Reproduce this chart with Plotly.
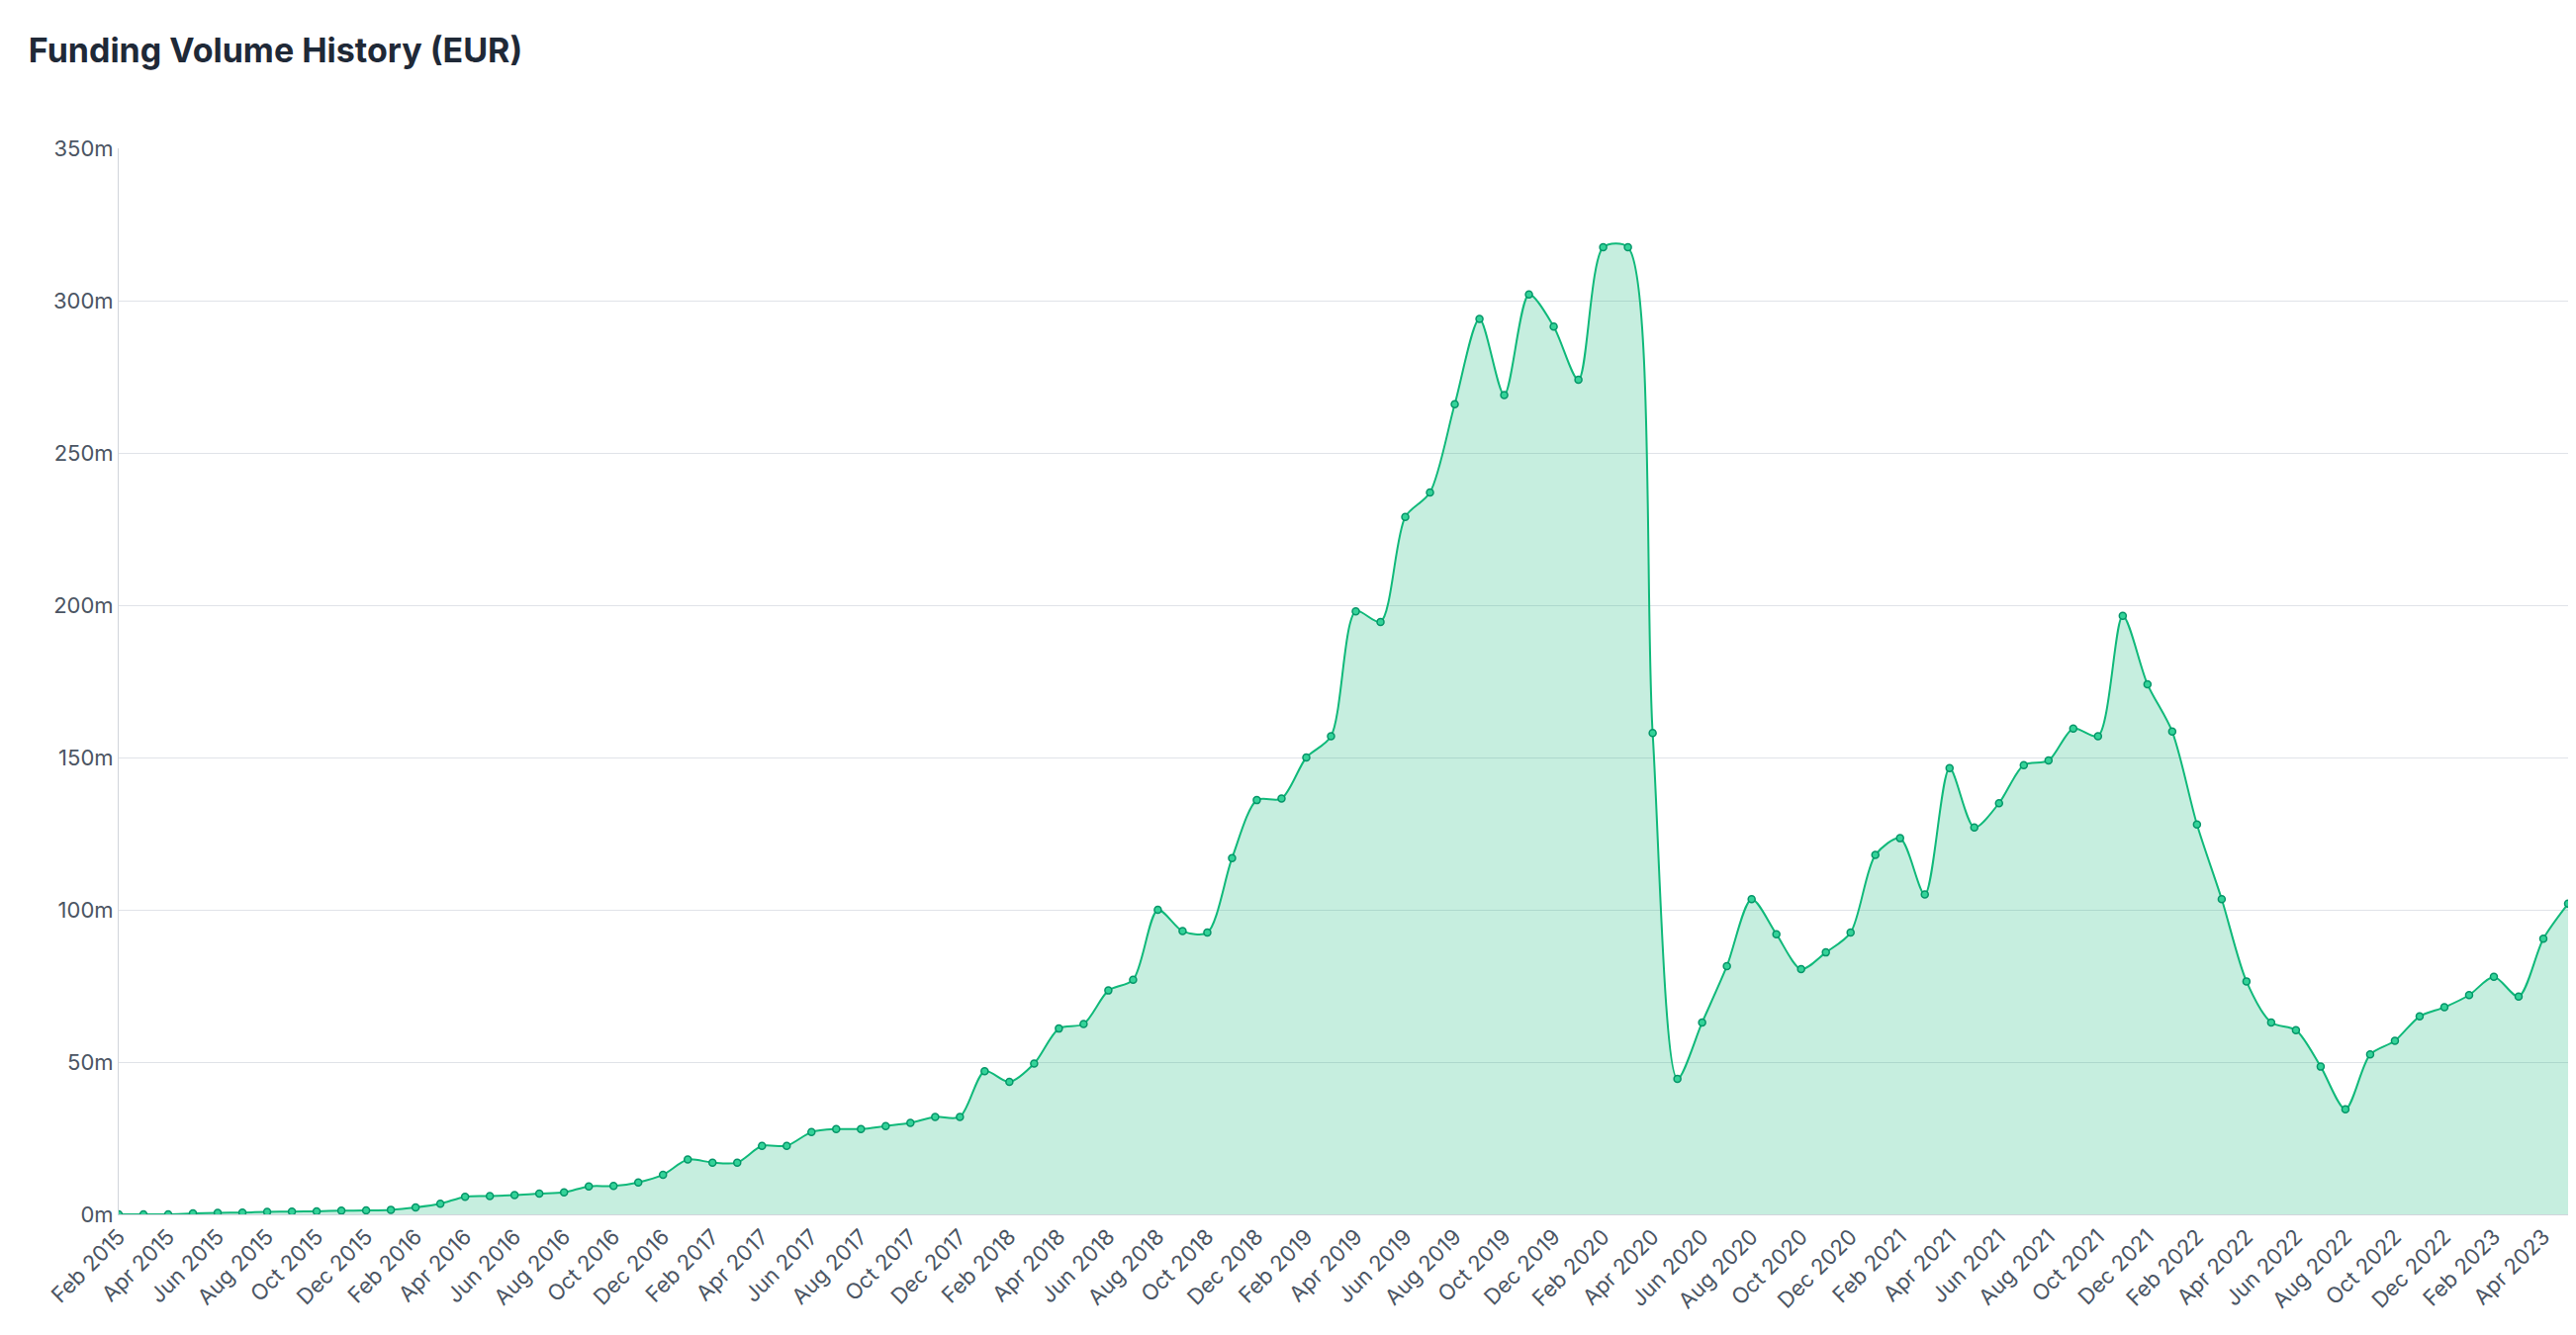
import plotly.graph_objects as go

months = ["Jan","Feb","Mar","Apr","May","Jun","Jul","Aug","Sep","Oct","Nov","Dec"]
labels = []
y, m = 2015, 1
while len(labels) < 100:
    labels.append(f"{months[m]} {y}")
    m += 1
    if m == 12:
        m = 0; y += 1

values = [0, 0, 0, 0.3, 0.5, 0.6, 0.8, 0.9, 1, 1.2, 1.3, 1.5, 2.3, 3.5, 5.8, 6, 6.3, 6.8, 7.2, 9.2,
          9.3, 10.5, 13, 18, 17, 17, 22.5, 22.5, 27, 28, 28, 29, 30, 32, 32, 47, 43.5, 49.5, 61, 62.5,
          73.5, 77, 100, 93, 92.5, 117, 136, 136.5, 150, 157, 198, 194.5, 229, 237, 266, 294, 269, 302, 291.5, 274,
          317.5, 317.5, 158, 44.5, 63, 81.5, 103.5, 92, 80.5, 86, 92.5, 118, 123.5, 105, 146.5, 127, 135, 147.5, 149, 159.5,
          157, 196.5, 174, 158.5, 128, 103.5, 76.5, 63, 60.5, 48.5, 34.5, 52.5, 57, 65, 68, 72, 78, 71.5, 90.5, 102]
values = [v * 1e6 for v in values]
yticks = [0, 50, 100, 150, 200, 250, 300, 350]

fig = go.Figure(go.Scatter(
    x=labels, y=values, mode="lines+markers",
    line=dict(color="#10b97a", width=2, shape="spline", smoothing=0.8),
    marker=dict(size=7, color="#34d399", line=dict(color="#059669", width=1.5)),
    fill="tozeroy", fillcolor="rgba(16,185,122,0.24)", hoverinfo="x+y"))

fig.update_layout(
    width=2604, height=1350, paper_bgcolor="white", plot_bgcolor="white",
    margin=dict(l=112, r=16, t=142, b=130),
    title=dict(text="<b>Funding Volume History (EUR)</b>", x=0.008, xanchor="left", y=0.968, yanchor="middle",
               font=dict(family="Inter, Liberation Sans, sans-serif", size=34, color="#1f2937")),
    font=dict(family="Inter, Liberation Sans, sans-serif", size=22, color="#4b5563"),
    showlegend=False,
    xaxis=dict(type="category", range=[0, 99], tickmode="array", tickvals=labels[::2], ticktext=labels[::2],
               tickangle=-45, showgrid=False, showline=True, linecolor="#d1d5db", ticks="", fixedrange=True),
    yaxis=dict(range=[0, 350e6], tickmode="array", tickvals=[v * 1e6 for v in yticks],
               ticktext=[f"{v}m" for v in yticks], gridcolor="#e0e3e8", showline=True, linecolor="#d1d5db",
               zeroline=False, ticks="", ticklen=6),
)
fig.write_html("out.html")
